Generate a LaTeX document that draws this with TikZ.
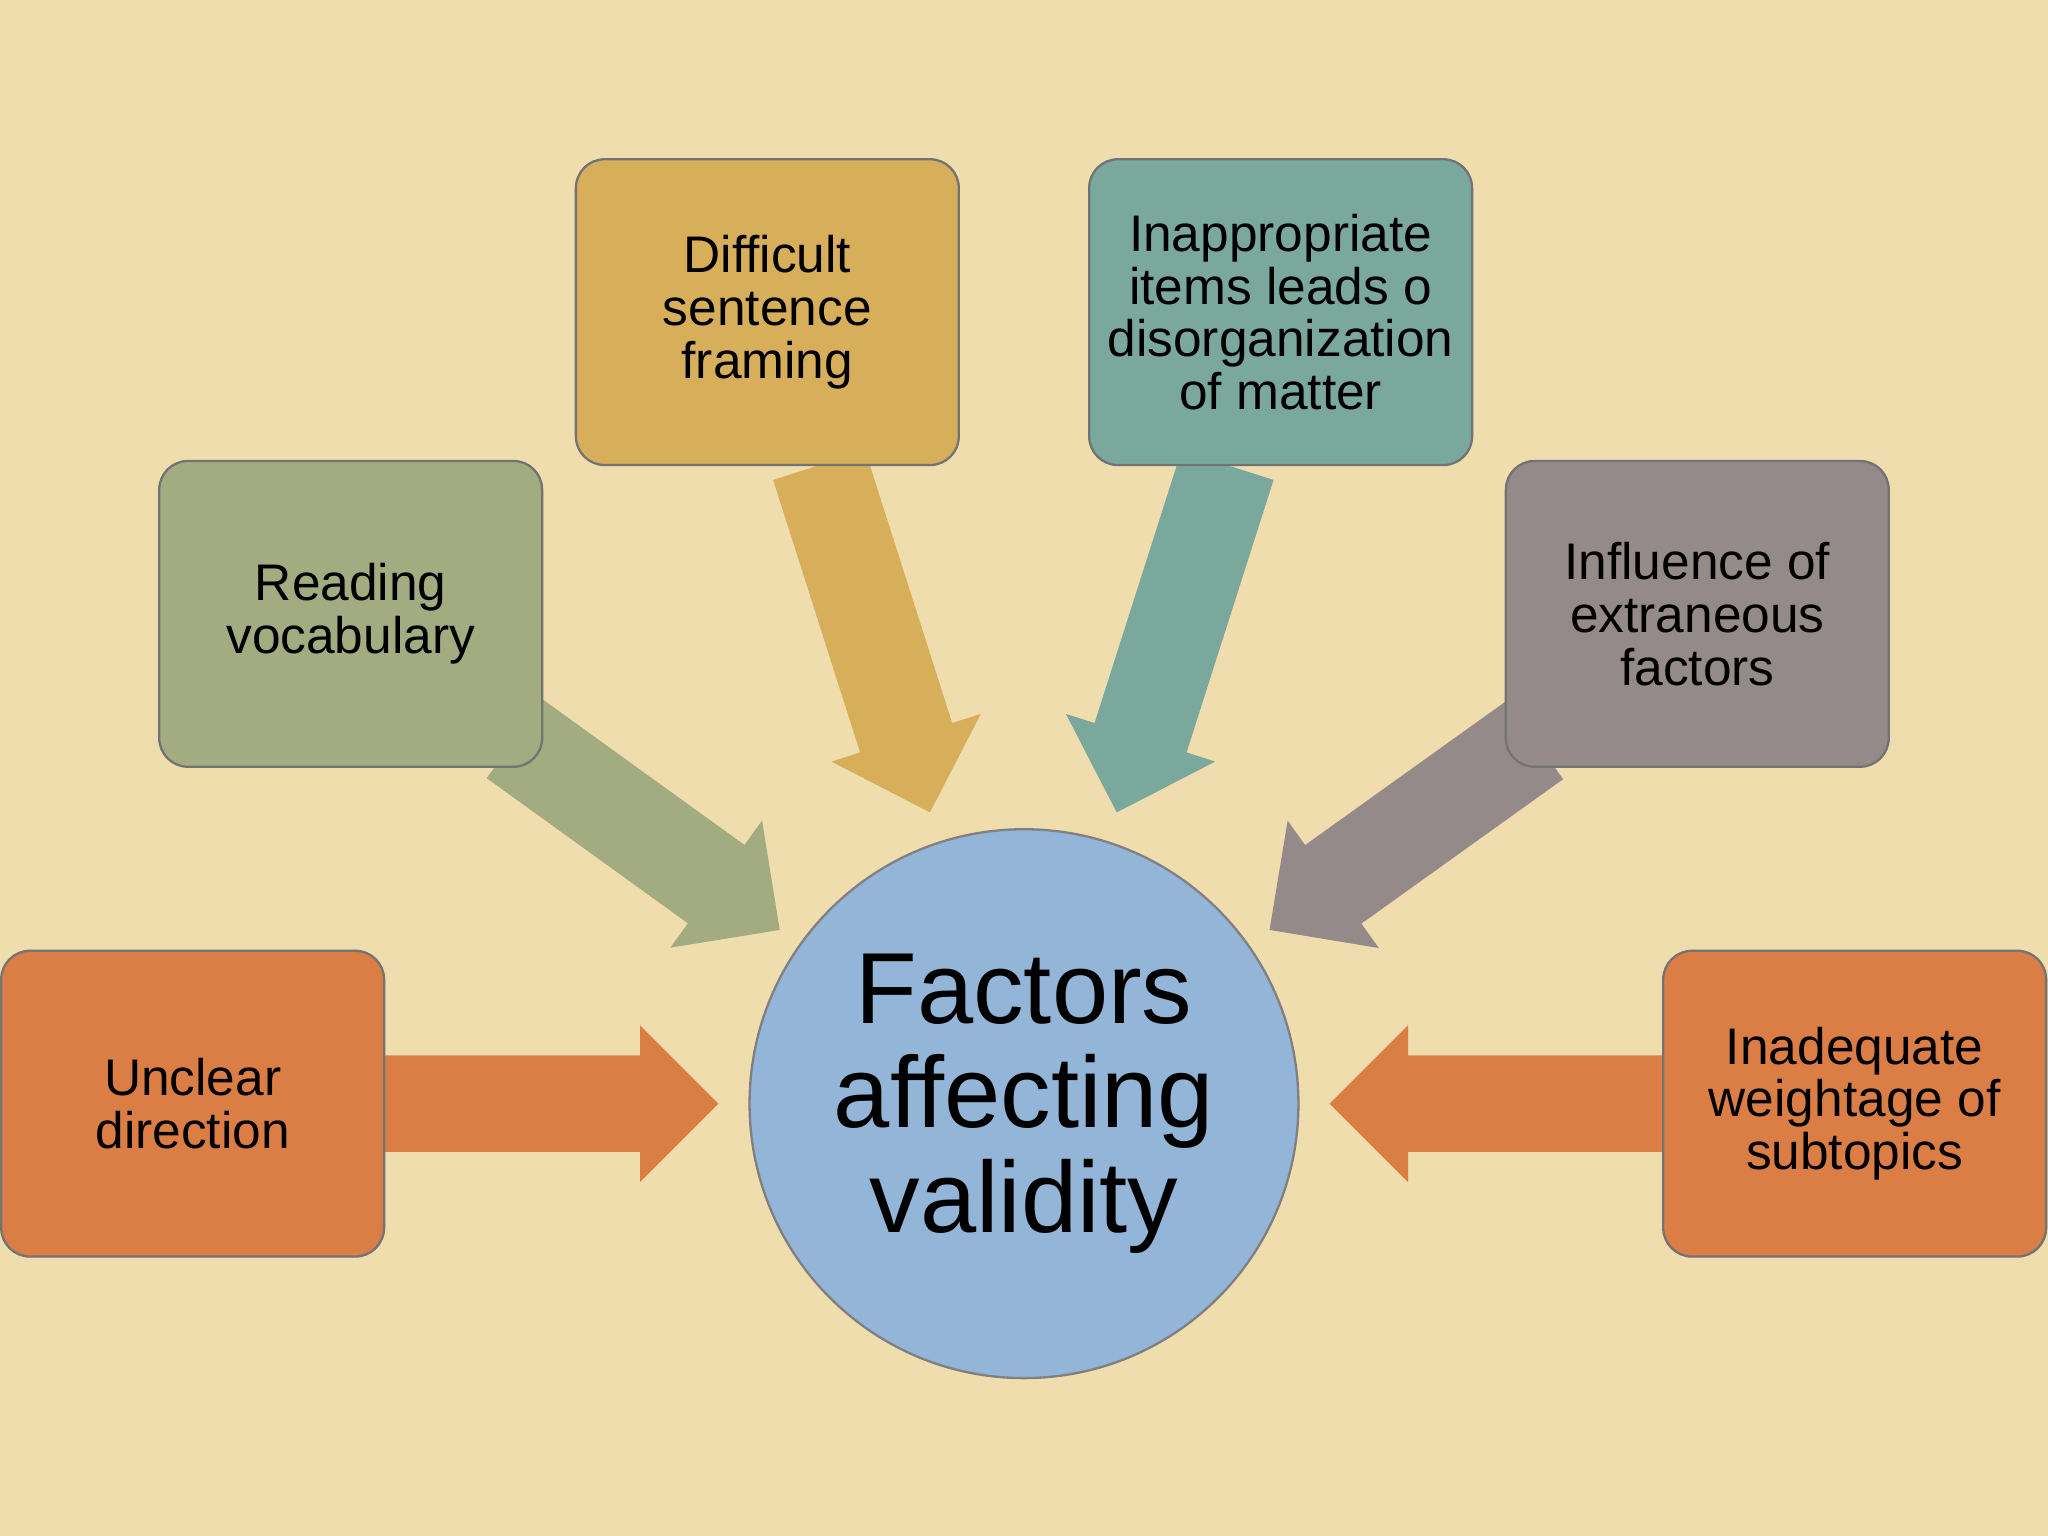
\documentclass[tikz,border=0pt]{standalone}
\usepackage{fontspec}
\setmainfont{Liberation Sans}
\definecolor{bg}{HTML}{EFDDAE}
\definecolor{corange}{HTML}{DB7E45}
\definecolor{cgreen}{HTML}{A3AC80}
\definecolor{cgold}{HTML}{D7AE5A}
\definecolor{cteal}{HTML}{7BA89D}
\definecolor{cgray}{HTML}{958A8A}
\definecolor{cblue}{HTML}{93B5D7}
\tikzset{
  fbox/.style={draw=black!55, line width=0.5pt, rounded corners=0.22cm, minimum width=2.93cm, minimum height=2.34cm, align=center, font=\fontsize{11.2}{11.5}\selectfont, inner sep=0pt}
}
% tip x, tip y, angle, length, colour
\newcommand\blockarr[5]{%
  \begin{scope}[xshift=#1*0.01cm, yshift=-#2*0.01cm, x=0.01cm, y=0.01cm, rotate=#3]
    \fill[#5] (0,0) -- (-60,60) -- (-60,37) -- (-#4,37) -- (-#4,-37) -- (-60,-37) -- (-60,-60) -- cycle;
  \end{scope}}
\begin{document}
\begin{tikzpicture}[x=0.01cm,y=-0.01cm]
\fill[bg] (0,0) rectangle (1568,1176);
\useasboundingbox (0,0) rectangle (1568,1176);
% arrows
\blockarr{550}{845}{0}{257}{corange}
\blockarr{1018}{845}{180}{256}{corange}
\blockarr{597}{712}{-35.8}{250}{cgreen}
\blockarr{712}{622}{-72.3}{279}{cgold}
\blockarr{855}{622}{-107.7}{279}{cteal}
\blockarr{972}{712}{-144.4}{250}{cgray}
% circle
\node[circle, draw=black!50, line width=0.5pt, fill=cblue, minimum size=4.2cm, align=center, font=\fontsize{22}{22.8}\selectfont] (c) at (784,845) {Factors\\affecting\\validity};
% boxes
\node[fbox, fill=corange] (b1) at (147.5,845) {Unclear\\direction};
\node[fbox, fill=cgreen] (b2) at (268.5,470) {Reading\\vocabulary};
\node[fbox, fill=cgold] (b3) at (587.5,239) {Difficult\\sentence\\framing};
\node[fbox, fill=cteal] (b4) at (980.5,239) {Inappropriate\\items leads o\\disorganization\\of matter};
\node[fbox, fill=cgray] (b5) at (1299.5,470) {Influence of\\extraneous\\factors};
\node[fbox, fill=corange] (b6) at (1420,845) {Inadequate\\weightage of\\subtopics};
\end{tikzpicture}
\end{document}
